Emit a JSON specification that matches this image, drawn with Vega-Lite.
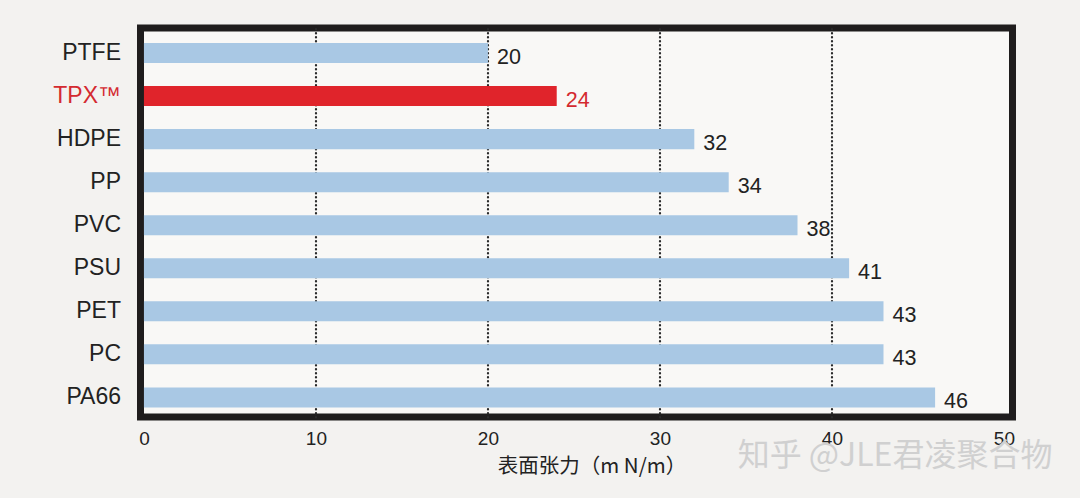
{
  "$schema": "https://vega.github.io/schema/vega-lite/v6.json",
  "autosize": "none",
  "width": 872,
  "height": 389,
  "padding": {"left": 140.5, "top": 28, "right": 67.5, "bottom": 81},
  "background": "#f3f2f0",
  "config": {
    "view": {"stroke": "#1f1d1d", "strokeWidth": 7, "fill": "#f9f8f6"},
    "font": "Liberation Sans"
  },
  "title": {
    "text": "知乎 @JLE君凌聚合物",
    "orient": "bottom",
    "anchor": "end",
    "color": "#d0d0d0",
    "fontSize": 32,
    "font": "Noto Sans CJK SC",
    "fontWeight": "normal",
    "offset": -36,
    "dx": 38
  },
  "data": {
    "values": [
      {"material": "PTFE", "value": 20},
      {"material": "TPX™", "value": 24},
      {"material": "HDPE", "value": 32},
      {"material": "PP", "value": 34},
      {"material": "PVC", "value": 38},
      {"material": "PSU", "value": 41},
      {"material": "PET", "value": 43},
      {"material": "PC", "value": 43},
      {"material": "PA66", "value": 46}
    ]
  },
  "encoding": {
    "y": {
      "field": "material",
      "type": "nominal",
      "sort": null,
      "scale": {"paddingInner": 0.535, "paddingOuter": 0.286, "align": 0.61},
      "axis": {
        "title": null,
        "domain": false,
        "ticks": false,
        "grid": false,
        "labelFontSize": 23,
        "labelPadding": 20,
        "labelColor": {"condition": {"test": "datum.value === 'TPX™'", "value": "#d42a30"}, "value": "#222222"}
      }
    },
    "x": {
      "field": "value",
      "type": "quantitative",
      "scale": {"domain": [-0.2, 50.5], "nice": false, "zero": false},
      "axis": {
        "values": [0, 10, 20, 30, 40, 50],
        "grid": true,
        "gridColor": "#2a2a2a",
        "gridWidth": 2.2,
        "gridDash": [0.5, 3.5],
        "gridCap": "round",
        "gridOpacity": {"condition": {"test": "datum.value === 0 || datum.value === 50", "value": 0}, "value": 1},
        "domain": false,
        "ticks": false,
        "labelFlush": false,
        "labelFontSize": 19,
        "labelColor": "#222222",
        "labelPadding": 12,
        "title": "表面张力（m N/m）",
        "titleFont": "Noto Sans CJK SC",
        "titleFontSize": 20.5,
        "titleFontWeight": "normal",
        "titleColor": "#222222",
        "titlePadding": 8,
        "titleX": 451
      }
    }
  },
  "layer": [
    {
      "mark": {"type": "bar"},
      "encoding": {
        "color": {"condition": {"test": "datum.material === 'TPX™'", "value": "#e0242b"}, "value": "#a9c8e4"}
      }
    },
    {
      "mark": {"type": "text", "align": "left", "baseline": "middle", "dx": 9, "dy": 5, "fontSize": 21.5, "font": "Liberation Sans"},
      "encoding": {
        "text": {"field": "value", "type": "quantitative"},
        "color": {"condition": {"test": "datum.material === 'TPX™'", "value": "#d42a30"}, "value": "#222222"}
      }
    }
  ]
}
